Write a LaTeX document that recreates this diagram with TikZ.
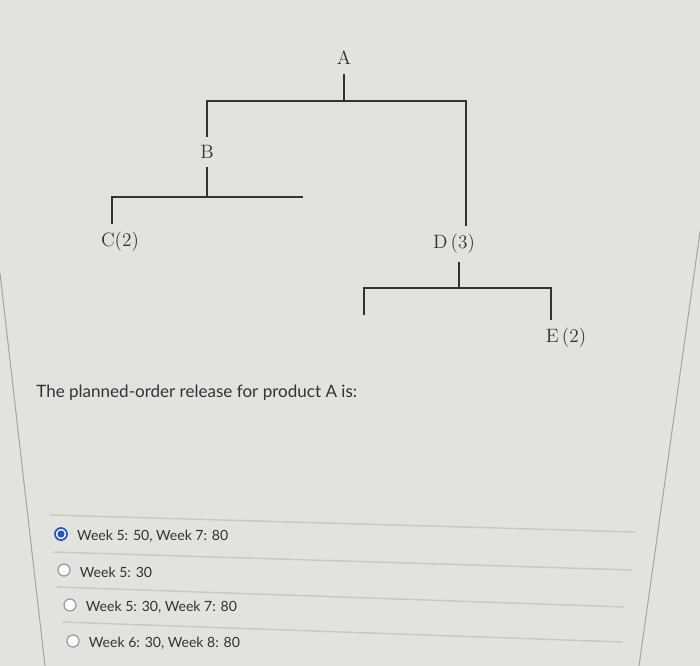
\documentclass[tikz,border=0pt]{standalone}
\usepackage{fontspec}
\newfontfamily\lato{Lato}
\usetikzlibrary{calc,positioning}
\definecolor{screen}{RGB}{226,226,223}
\definecolor{ink}{RGB}{50,50,50}
\definecolor{rule}{RGB}{200,200,197}
\definecolor{radioblue}{RGB}{38,84,205}
\tikzset{
  part/.style={inner sep=0pt,outer sep=5pt,font=\fontsize{11}{13}\selectfont,text=ink},
  tree/.style={draw=ink,line width=1.1pt},
  radio/.style={circle,draw=gray!80,line width=0.7pt,fill=white,minimum size=12*0.02cm,inner sep=0pt},
  opt/.style={font=\lato\fontsize{8}{10}\selectfont,text=ink,anchor=west,inner sep=0pt,yshift=-0.05cm},
}
\begin{document}
\begin{tikzpicture}[x=0.02cm,y=-0.02cm]
\fill[screen] (0,0) rectangle (700,666);
\useasboundingbox (0,0) rectangle (700,666);
\draw[gray!70,line width=0.6pt] (0,273)--(45,666);
\draw[gray!70,line width=0.6pt] (700,232)--(639,666);
\node[part] (A) at (344,58) {A};
\node[part] (B) at (207,152) {B};
\node[part] (C) at (120,242) {C(2)};
\node[part] (D) at (454,244) {D\,(3)};
\node[part] (E) at (566,338) {E\,(2)};
\coordinate (ab) at (344,101);
\coordinate (bb) at (207,196);
\coordinate (bend) at (303,197);
\coordinate (db) at (459,288);
\coordinate (dfree) at (364,315);
\draw[tree] (A) -- (ab);
\draw[tree] (B.north) |- (ab) -| ($(D.north)+(12,0)$);
\draw[tree] (B.south) -- (bb);
\draw[tree] ($(C.north)+(-8,0)$) |- (bend);
\draw[tree] ($(D.south)+(5,0)$) -- (db);
\draw[tree] (dfree) |- (db) -| ($(E.north)+(-15,0)$);
\node[opt,font=\lato\fontsize{9.7}{12}\selectfont,yshift=0.05cm] (q) at (36,393) {The planned-order release for product A is:};
\draw[rule,line width=0.8pt] (50,515)--(635,532);
\draw[rule,line width=0.8pt] (53,552)--(632,570);
\draw[rule,line width=0.8pt] (57,587)--(625,607);
\draw[rule,line width=0.8pt] (62,622)--(622,642);
\node[radio,draw=radioblue,line width=1pt] (r1) at (61,534) {};
\fill[radioblue] (r1) circle (3.6*0.02cm);
\node[radio] (r2) at (64,570) {};
\node[radio] (r3) at (70,605) {};
\node[radio] (r4) at (73,641) {};
\node[opt,right=0.18cm of r1] (o1) {Week 5: 50, Week 7: 80};
\node[opt,right=0.18cm of r2] (o2) {Week 5: 30};
\node[opt,right=0.18cm of r3] (o3) {Week 5: 30, Week 7: 80};
\node[opt,right=0.18cm of r4] (o4) {Week 6: 30, Week 8: 80};
\end{tikzpicture}
\end{document}
